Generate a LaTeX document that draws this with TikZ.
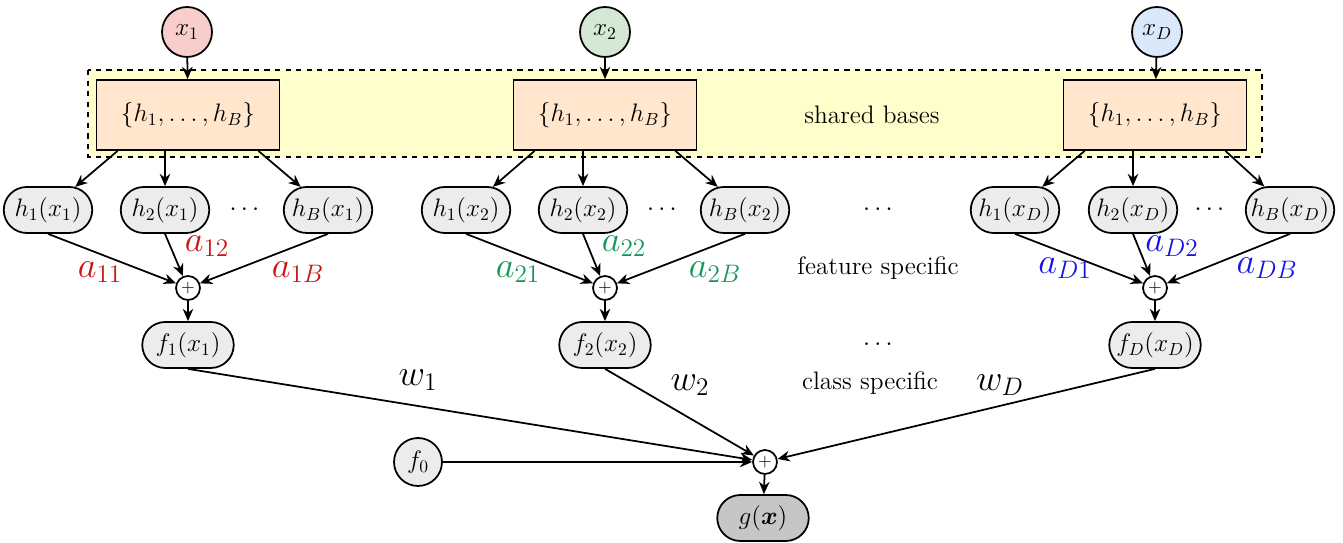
\documentclass[tikz,border=0pt]{standalone}
\usepackage{amsmath}
\usetikzlibrary{arrows.meta,shapes.misc,backgrounds}
\definecolor{redlbl}{RGB}{200,20,20}
\definecolor{greenlbl}{RGB}{20,150,90}
\definecolor{bluelbl}{RGB}{20,20,230}
\definecolor{inred}{HTML}{F8CECC}
\definecolor{ingreen}{HTML}{D5E8D4}
\definecolor{inblue}{HTML}{DAE8FC}
\definecolor{sharedbg}{HTML}{FFFFCC}
\definecolor{basisbg}{HTML}{FFE6CC}
\tikzset{
    edge/.style={-{Stealth[length=7pt,width=6pt]}, line width=1pt},
    inp/.style={draw, circle, line width=1pt, minimum size=1cm, inner sep=0pt, font=\Large},
    basis/.style={draw, rectangle, line width=1pt, fill=basisbg, minimum width=3.66cm, minimum height=1.4cm, font=\Large},
    hfun/.style={draw, rounded rectangle, line width=1pt, fill=gray!15, minimum width=1.84cm, minimum height=0.92cm, inner sep=1pt, font=\Large},
    plus/.style={draw, circle, line width=1pt, fill=white, minimum size=0.48cm, inner sep=0pt},
    lbl/.style={font=\huge},
    txt/.style={font=\Large}
}
\begin{document}
\begin{tikzpicture}[x=0.02cm,y=-0.02cm]
    \useasboundingbox (0,0) rectangle (1343,543);
    % shared bases
    \draw[dashed, line width=1pt, fill=sharedbg] (88,70) rectangle (1262,157);
    \node[txt] (shared) at (872,115) {shared bases};
    \node[txt] (feat) at (878,268) {feature specific};
    \node[txt] (cls) at (870,383) {class specific};
    \node[txt] at (880,210) {$\cdots$};
    \node[txt] at (880,345) {$\cdots$};
    % inputs
    \node[inp, fill=inred] (x1) at (187,32) {$x_1$};
    \node[inp, fill=ingreen] (x2) at (605,32) {$x_2$};
    \node[inp, fill=inblue] (xD) at (1157,32) {$x_D$};
    \node[basis] (b1) at (188,115) {$\{h_1,\ldots,h_B\}$};
    \node[basis] (b2) at (605,115) {$\{h_1,\ldots,h_B\}$};
    \node[basis] (bD) at (1155,115) {$\{h_1,\ldots,h_B\}$};
    \draw[edge] (x1) -- (b1);
    \draw[edge] (x2) -- (b2);
    \draw[edge] (xD) -- (bD);
    % basis evaluations
    \foreach \i/\xa/\xb/\xc/\xp in {1/48/165/328/188, 2/466/583/745/605, D/1015/1133/1290/1155}{
        \node[hfun] (h\i a) at (\xa,210) {$h_1(x_\i)$};
        \node[hfun] (h\i b) at (\xb,210) {$h_2(x_\i)$};
        \node[hfun] (h\i c) at (\xc,210) {$h_B(x_\i)$};
        \node[txt] at ({(\xb+\xc)/2},210) {$\cdots$};
        \node[plus] (p\i) at (\xp,288) {$+$};
        \node[hfun, minimum width=1.9cm] (f\i) at (\xp,345) {$f_\i(x_\i)$};
        \draw[edge] (b\i.south west) ++(22,0) -- (h\i a);
        \draw[edge] (b\i.south -| h\i b) -- (h\i b);
        \draw[edge] (b\i.south east) ++(-22,0) -- (h\i c);
        \draw[edge] (h\i a.south) -- (p\i);
        \draw[edge] (h\i b.south) -- (p\i);
        \draw[edge] (h\i c.south) -- (p\i);
        \draw[edge] (p\i) -- (f\i);
    }
    % weights
    \node[lbl, text=redlbl] at (100,272) {$a_{11}$};
    \node[lbl, text=redlbl] at (207,246) {$a_{12}$};
    \node[lbl, text=redlbl] at (298,272) {$a_{1B}$};
    \node[lbl, text=greenlbl] at (518,272) {$a_{21}$};
    \node[lbl, text=greenlbl] at (624,246) {$a_{22}$};
    \node[lbl, text=greenlbl] at (715,272) {$a_{2B}$};
    \node[lbl, text=bluelbl] at (1065,268) {$a_{D1}$};
    \node[lbl, text=bluelbl] at (1172,246) {$a_{D2}$};
    \node[lbl, text=bluelbl] at (1267,268) {$a_{DB}$};
    % output
    \node[inp, fill=gray!15, minimum size=0.96cm] (f0) at (418,462) {$f_0$};
    \node[plus] (pg) at (765,462) {$+$};
    \node[hfun, fill=gray!45, minimum width=1.9cm] (g) at (763,518) {$g(\boldsymbol{x})$};
    \draw[edge] (f1.south) -- (pg);
    \draw[edge] (f2.south) -- (pg);
    \draw[edge] (fD.south) -- (pg);
    \draw[edge] (f0) -- (pg);
    \draw[edge] (pg) -- (g);
    \node[lbl] at (418,380) {$w_1$};
    \node[lbl] at (690,385) {$w_2$};
    \node[lbl] at (1000,385) {$w_D$};
\end{tikzpicture}
\end{document}
